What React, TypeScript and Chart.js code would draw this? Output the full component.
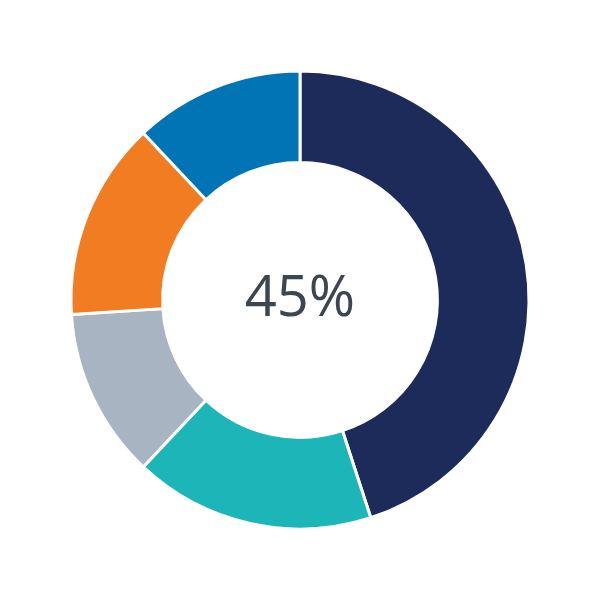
import React, { useEffect, useRef } from "react";
import { Chart, registerables } from "chart.js";

Chart.register(...registerables);

const labels = ["Navy", "Teal", "Gray", "Orange", "Blue"];
const values = [45, 17, 12, 14, 12];
const colors = ["#1c2b5a", "#1cb5b8", "#a9b4c3", "#f27c22", "#0074b5"];
const centerLabel = "45%";

const centerText = {
  id: "centerText",
  afterDraw(chart: Chart) {
    const { ctx, chartArea } = chart;
    const cx = (chartArea.left + chartArea.right) / 2;
    const cy = (chartArea.top + chartArea.bottom) / 2;
    ctx.save();
    ctx.font = "56px 'Open Sans'";
    ctx.fillStyle = "#3c4650";
    ctx.textAlign = "center";
    ctx.textBaseline = "alphabetic";
    ctx.fillText(centerLabel, cx, cy + 16);
    ctx.restore();
  },
};

const App: React.FC = () => {
  const canvasRef = useRef<HTMLCanvasElement | null>(null);
  const chartRef = useRef<Chart | null>(null);

  useEffect(() => {
    const ctx = canvasRef.current?.getContext("2d");
    if (!ctx) return;
    if (chartRef.current) chartRef.current.destroy();

    chartRef.current = new Chart(ctx, {
      type: "doughnut",
      data: {
        labels,
        datasets: [
          {
            data: values,
            backgroundColor: colors,
            borderColor: "#ffffff",
            borderWidth: 3,
          },
        ],
      },
      options: {
        responsive: false,
        animation: false,
        radius: 229,
        cutout: "60%",
        layout: { padding: 0 },
        plugins: {
          legend: { display: false },
          tooltip: { enabled: false },
        },
      },
      plugins: [centerText],
    });

    return () => {
      chartRef.current?.destroy();
      chartRef.current = null;
    };
  }, []);

  return (
    <div style={{ position: "fixed", top: 0, left: 0, width: 600, height: 600, background: "#fff" }}>
      <canvas ref={canvasRef} width={600} height={600}></canvas>
    </div>
  );
};

export default App;
